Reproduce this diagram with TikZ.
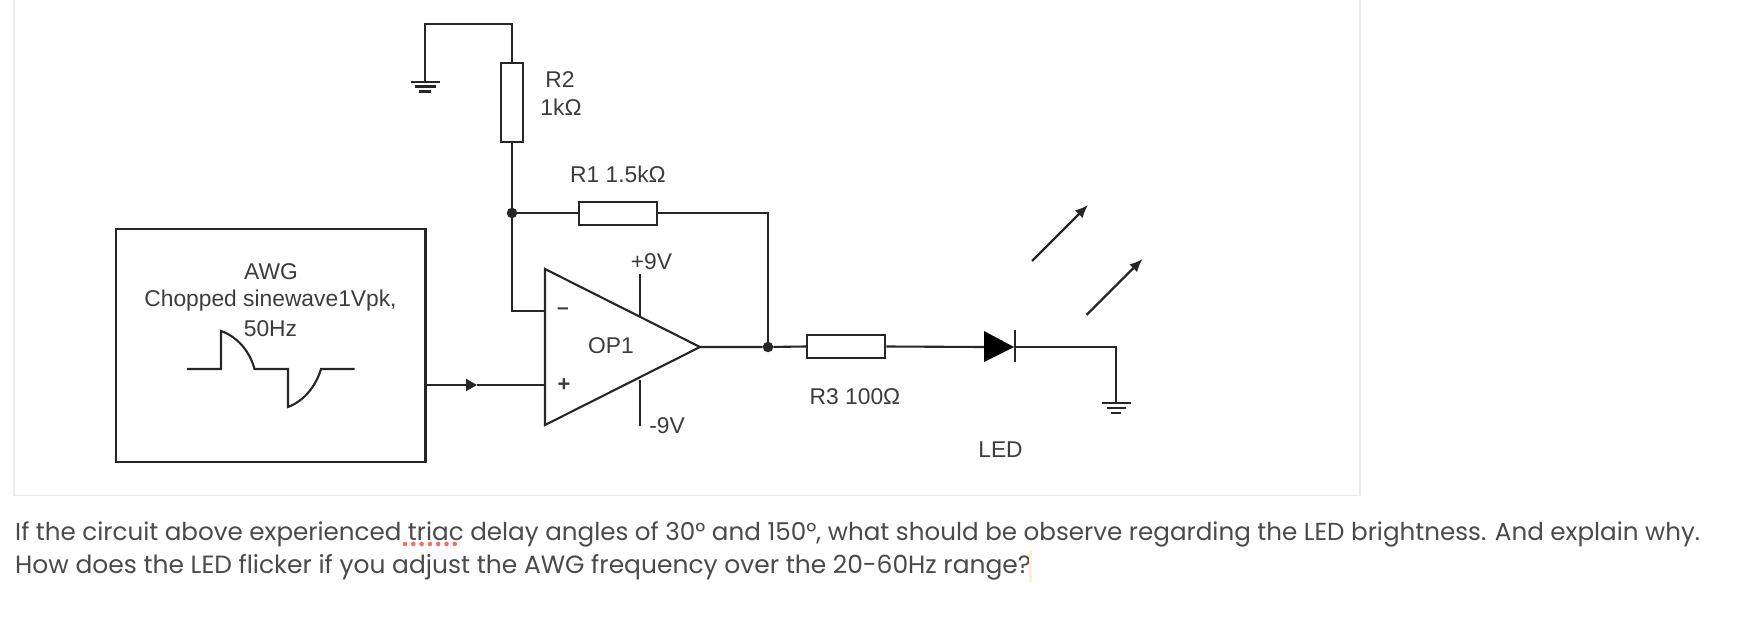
\documentclass[tikz,border=0pt]{standalone}
\usepackage{fontspec}
\usepackage{graphicx}
\setmainfont{Liberation Sans}
\newfontfamily\bodyfont{Poppins}
\usetikzlibrary{arrows.meta}
\definecolor{wire}{HTML}{262626}
\definecolor{lab}{HTML}{3C3C3C}
\definecolor{body}{HTML}{4A4A4A}
\definecolor{framec}{HTML}{EAEAEA}
\definecolor{spell}{HTML}{F0706A}
\definecolor{caretc}{HTML}{FCEFD8}
\tikzset{
  wireline/.style={draw=wire,line width=2.1pt},
  resistor/.style={draw=wire,line width=2pt,fill=white,inner sep=0pt,minimum width=#1},
  lbl/.style={text=lab,font=\fontsize{22.8}{26}\selectfont,inner sep=0pt},
  para/.style={text=body,font=\bodyfont\fontsize{#1}{28}\selectfont,inner sep=0pt,anchor=base west},
  dot/.style={circle,fill=wire,inner sep=0pt,minimum size=10.5pt},
  sdot/.style={circle,fill=spell,inner sep=0pt,minimum size=4.6pt},
  gline/.style={draw=wire,line width=2.2pt},
  ray/.style={draw=wire,line width=2.3pt,-{Latex[length=13pt,width=11pt]}},
}
\begin{document}
\begin{tikzpicture}[x=1pt,y=-1pt]
\useasboundingbox (0,0) rectangle (1742,618);
\fill[white] (0,0) rectangle (1742,618);
% frame of the pasted picture
\draw[framec,line width=1.2pt] (14,0) -- (14,495.5) -- (1360,495.5) -- (1360,0);
% components
\node[resistor=22.5pt,minimum height=79pt] (R2) at (512,102.5) {};
\node[resistor=78.5pt,minimum height=23pt] (R1) at (618,213) {};
\node[resistor=78.5pt,minimum height=23pt] (R3) at (846,346.5) {};
\node[draw=wire,line width=2.3pt,inner sep=0pt,minimum width=309.5pt,minimum height=233pt] (awg) at (270.7,345.5) {};
% named points
\coordinate (gnda) at (425,82);
\coordinate (topl) at (425,24);
\coordinate (topr) at (512,24);
\coordinate (oa1) at (545,269);
\coordinate (oa2) at (545,425);
\coordinate (oa3) at (700,347);
\coordinate (inm) at (545,311);
\coordinate (inp) at (545,385);
\coordinate (arr) at (477,385);
\coordinate (fbr) at (768,213);
\coordinate (pup) at (640,274);
\coordinate (pupe) at (640,317);
\coordinate (pdn) at (640,380);
\coordinate (pdne) at (640,426);
\coordinate (da) at (984,347);
\coordinate (dk) at (1015,347);
\coordinate (corner) at (1116,347);
\coordinate (gndb) at (1116,403);
% op-amp
\draw[wireline,line join=miter] (oa1) -- (oa3) -- (oa2) -- cycle;
% wiring
\node[dot] (j1) at (512,213) {};
\node[dot] (j2) at (768,347) {};
\draw[wireline] (gnda) -- (topl) -- (topr) -- (R2.north);
\draw[wireline] (R2.south) -- (j1);
\draw[wireline] (j1) -- (inm -| j1) -- (inm);
\draw[wireline] (j1) -- (R1.west);
\draw[wireline] (R1.east) -- (fbr) -- (j2);
\draw[wireline] (oa3) -- (j2) -- (R3.west);
\draw[wireline] (R3.east) -- (da);
\draw[wireline] (dk) -- (corner) -- (gndb);
\draw[wireline] (pup) -- (pupe);
\draw[wireline] (pdn) -- (pdne);
\draw[wireline,-{Triangle[length=11pt,width=12pt]}] (awg.east |- inp) -- (arr);
\draw[wireline] (arr) -- (inp);
% input signs
\node[lbl,font=\fontsize{21}{24}\bfseries\selectfont] (minus) at (563,311) {–};
\node[lbl,font=\fontsize{22}{24}\bfseries\selectfont] (plus) at (564,385) {+};
% LED
\fill[black] (984,331) -- (1014,347) -- (984,362) -- cycle;
\draw[wire,line width=1.7pt] (1015,330) -- (1015,362);
\draw[ray] (1032,261) -- (1088,205);
\draw[ray] (1086.5,315) -- (1142.5,259);
% grounds
\draw[gline] (411,82) -- (440,82);
\draw[gline] (415,86.5) -- (436,86.5);
\draw[gline] (419,91.5) -- (431,91.5);
\draw[gline] (1102,403) -- (1130.5,403);
\draw[gline] (1107,408) -- (1126,408);
\draw[gline] (1111,413) -- (1121,413);
% AWG waveform
\draw[wire,line width=2.1pt,line join=miter] (187,369) -- (221,369) -- (221,331)
  .. controls (238,337) and (250,352) .. (254.5,369) -- (288,369) -- (288,407)
  .. controls (304,401) and (316,386) .. (321,369) -- (354.5,369);
% labels
\node[lbl] (lr2) at (560,80) {R2};
\node[lbl] (lr2v) at (561,107) {1kΩ};
\node[lbl] (lr1) at (618,174) {R1 1.5kΩ};
\node[lbl] (lr3) at (855,397) {R3 100Ω};
\node[lbl] (lp) at (651.5,262) {+9V};
\node[lbl] (lm) at (667,426) {-9V};
\node[lbl] (lop) at (611,346) {OP1};
\node[lbl] (lled) at (1000.5,450) {LED};
\node[lbl] (la1) at (271,272) {AWG};
\node[lbl] (la2) at (270.5,301) {Chopped sinewave1Vpk,};
\node[lbl] (la3) at (270.5,329) {50Hz};
% question text
\node[para=24.6] (q1) at (15,540) {If the circuit above experienced triac delay angles of 30° and 150°, what should be observe regarding the LED brightness. And explain why.};
\node[para=24.95] (q2) at (15,573) {How does the LED flicker if you adjust the AWG frequency over the 20-60Hz range?};
% spell-check dots and caret highlight
\foreach \i in {0,...,6} \node[sdot] (s\i) at (405+8.3*\i,544) {};
\fill[caretc] (1028.5,550) rectangle (1032,582);
\end{tikzpicture}
\end{document}
